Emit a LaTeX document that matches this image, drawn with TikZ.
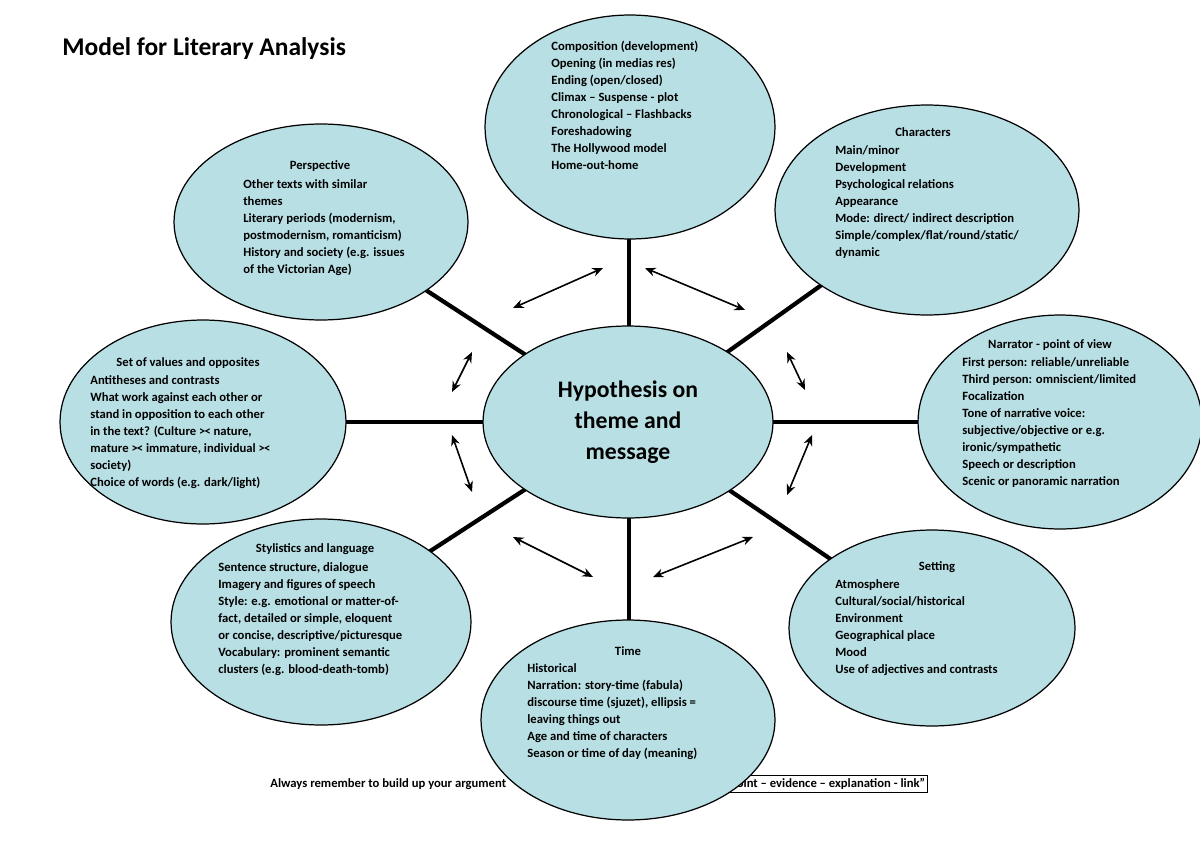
\documentclass[tikz,border=0pt]{standalone}
\usepackage{fontspec}
\setmainfont{Carlito}
\usetikzlibrary{shapes.geometric,arrows.meta}
\definecolor{bub}{HTML}{B8DFE4}
\begin{document}
\begin{tikzpicture}[x=0.02cm,y=-0.02cm,
  bubble/.style={ellipse,draw=black,line width=0.7pt,fill=bub,inner sep=0pt},
  spoke/.style={line width=2.4pt},
  dbl/.style={{Stealth[length=6pt,width=5pt]}-{Stealth[length=6pt,width=5pt]},line width=0.9pt},
  body/.style={anchor=north west,inner sep=0pt,align=left,font=\bfseries\fontsize{7.2}{9.68}\selectfont},
  head/.style={inner sep=0pt,font=\bfseries\fontsize{7.2}{9.68}\selectfont}]
\useasboundingbox (0,0) rectangle (1200,848);
\node[anchor=west,inner sep=0pt,font=\bfseries\fontsize{14.5}{17}\selectfont] (title) at (62,49) {Model for Literary Analysis};
\node[anchor=west,inner sep=0pt,font=\bfseries\fontsize{7.2}{9}\selectfont] (rem) at (270,784) {Always remember to build up your argument};
\node[draw,anchor=west,line width=0.8pt,inner sep=1.5pt,font=\bfseries\fontsize{7.2}{9}\selectfont] (pel) at (727,784) {Point -- evidence -- explanation - link''};
% spokes behind
\draw[spoke] (629,127) -- (629,720);
\draw[spoke] (203,422) -- (1060,422);
\draw[spoke] (321,222) -- (629,422) -- (932,628);
\draw[spoke] (927,210) -- (629,422) -- (321,622);
% ellipses
\node[bubble,minimum width=290\pgflinewidth*0+5.8cm,minimum height=4.48cm] (comp) at (630,127) {};
\node[bubble,minimum width=5.88cm,minimum height=3.92cm] (persp) at (321,222) {};
\node[bubble,minimum width=6.08cm,minimum height=4.2cm] (char) at (927,210) {};
\node[bubble,minimum width=5.72cm,minimum height=4.08cm] (vals) at (203,422) {};
\node[bubble,minimum width=5.68cm,minimum height=4.28cm] (narr) at (1060,422) {};
\node[bubble,minimum width=6.0cm,minimum height=4.12cm] (styl) at (321,622) {};
\node[bubble,minimum width=5.72cm,minimum height=3.92cm] (sett) at (932,628) {};
\node[bubble,minimum width=5.88cm,minimum height=4.0cm] (time) at (628,720) {};
\node[bubble,minimum width=5.8cm,minimum height=3.84cm,align=center,font=\bfseries\fontsize{13.5}{17.6}\selectfont] (hyp) at (628,422) {Hypothesis on\\theme and\\message};
% arrows
\coordinate (a1) at (513,308); \coordinate (b1) at (603,268);
\coordinate (a2) at (645,268); \coordinate (b2) at (745,310);
\coordinate (a3) at (452,392); \coordinate (b3) at (472,352);
\coordinate (a4) at (787,352); \coordinate (b4) at (805,390);
\coordinate (a5) at (452,435); \coordinate (b5) at (472,492);
\coordinate (a6) at (812,435); \coordinate (b6) at (787,495);
\coordinate (a7) at (513,537); \coordinate (b7) at (593,577);
\coordinate (a8) at (653,577); \coordinate (b8) at (753,537);
\foreach \i in {1,...,8} \draw[dbl] (a\i) -- (b\i);
% texts
\node[body] (tcomp) at (551,41) {Composition (development)\\Opening (in medias res)\\Ending (open/closed)\\Climax -- Suspense - plot\\Chronological -- Flashbacks\\Foreshadowing\\The Hollywood model\\Home-out-home};
\node[head] (hpersp) at (320,166) {Perspective};
\node[body] (tpersp) at (243,179) {Other texts with similar\\themes\\Literary periods (modernism,\\postmodernism, romanticism)\\History and society (e.g. issues\\of the Victorian Age)};
\node[head] (hchar) at (923,132) {Characters};
\node[body] (tchar) at (835,145) {Main/minor\\Development\\Psychological relations\\Appearance\\Mode: direct/ indirect description\\Simple/complex/flat/round/static/\\dynamic};
\node[head] (hvals) at (188,363) {Set of values and opposites};
\node[body] (tvals) at (90,375) {Antitheses and contrasts\\What work against each other or\\stand in opposition to each other\\in the text? (Culture >\kern-0.5pt< nature,\\mature >\kern-0.5pt< immature, individual >\kern-0.5pt<\\society)\\Choice of words (e.g. dark/light)};
\node[head] (hnarr) at (1050,345) {Narrator - point of view};
\node[body] (tnarr) at (962,357) {First person: reliable/unreliable\\Third person: omniscient/limited\\Focalization\\Tone of narrative voice:\\subjective/objective or e.g.\\ironic/sympathetic\\Speech or description\\Scenic or panoramic narration};
\node[head] (hstyl) at (315,549) {Stylistics and language};
\node[body] (tstyl) at (218,562) {Sentence structure, dialogue\\Imagery and figures of speech\\Style: e.g. emotional or matter-of-\\fact, detailed or simple, eloquent\\or concise, descriptive/picturesque\\Vocabulary: prominent semantic\\clusters (e.g. blood-death-tomb)};
\node[head] (hsett) at (937,567) {Setting};
\node[body] (tsett) at (835,579) {Atmosphere\\Cultural/social/historical\\Environment\\Geographical place\\Mood\\Use of adjectives and contrasts};
\node[head] (htime) at (628,651) {Time};
\node[body] (ttime) at (527,663) {Historical\\Narration: story-time (fabula)\\discourse time (sjuzet), ellipsis =\\leaving things out\\Age and time of characters\\Season or time of day (meaning)};
\end{tikzpicture}
\end{document}
